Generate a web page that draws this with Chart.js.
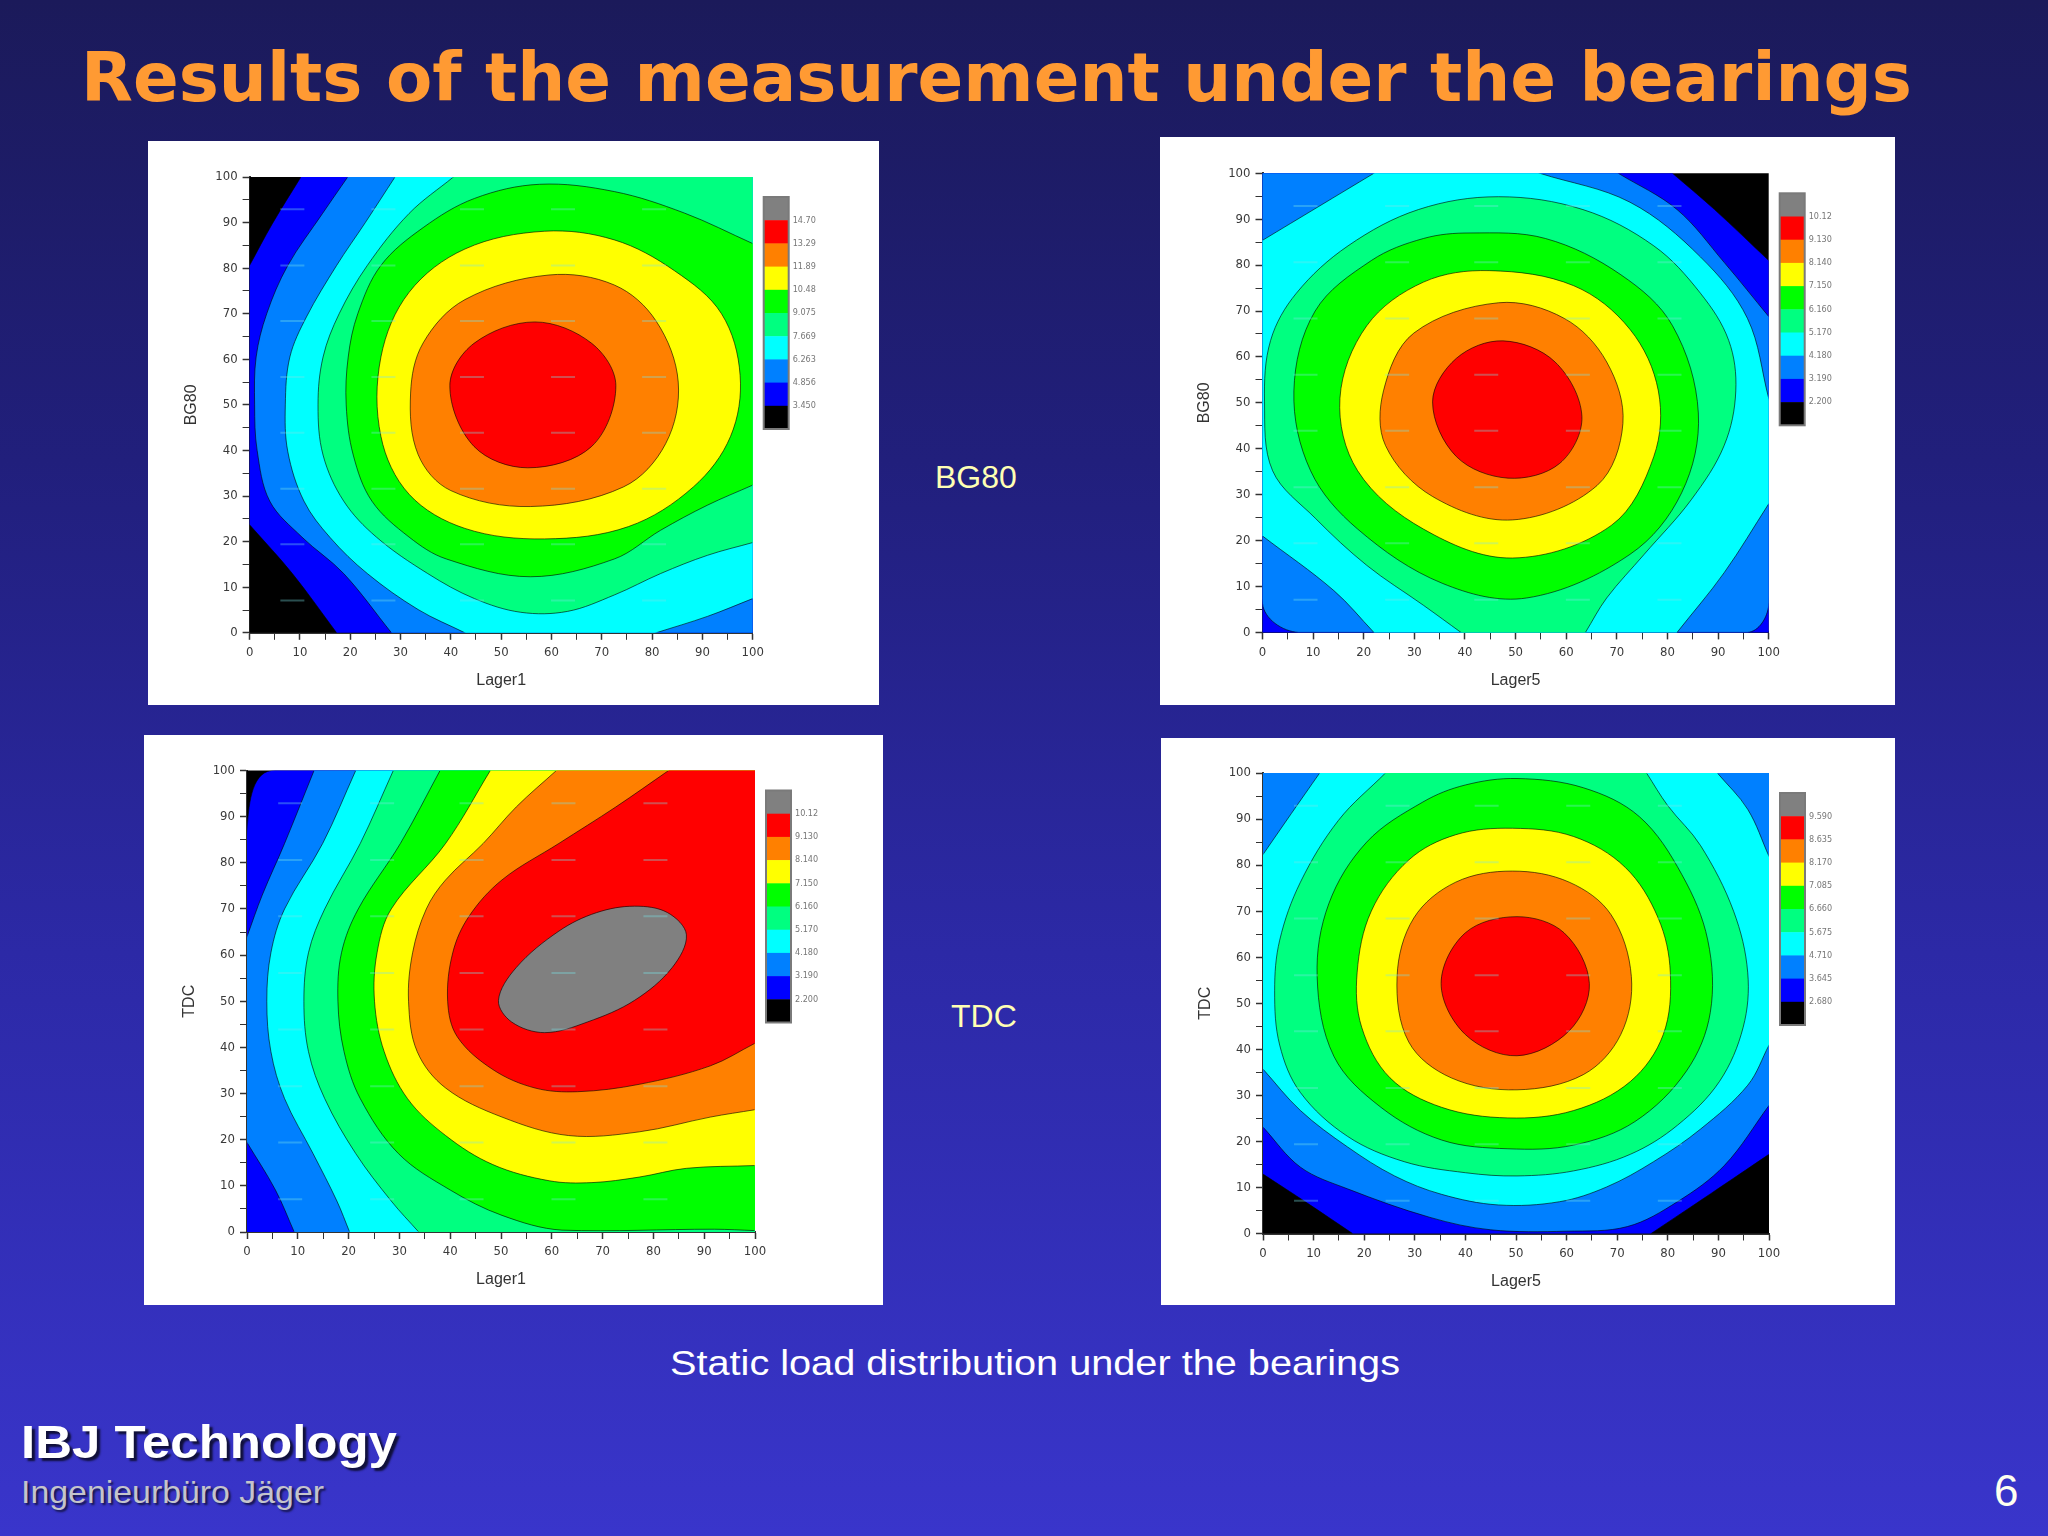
<!DOCTYPE html>
<html>
<head>
<meta charset="utf-8">
<script src="https://cdn.jsdelivr.net/npm/chart.js@4.4.0/dist/chart.umd.min.js"></script>
<style>
  body { margin:0; width:2048px; height:1536px; overflow:hidden; position:relative;
         background: linear-gradient(to bottom, #1b1a5a 0%, #211f7c 30%, #2c29a6 62%, #3935cb 100%);
         font-family: 'Liberation Sans', Arial, sans-serif; }
  .panel { position:absolute; background:#fff; }
  .txt { position:absolute; white-space:nowrap; transform-origin:left center; }
</style>
</head>
<body>

<div class="txt" id="title" style="left:81px;top:36px;font-family:'DejaVu Sans';font-weight:bold;font-size:67px;line-height:84px;color:#ff9a33">Results of the measurement under the bearings</div>

<div class="panel" style="left:148px;top:141px;width:731px;height:564px"><canvas id="chart1" width="731" height="564"></canvas></div>
<div class="panel" style="left:1160px;top:137px;width:735px;height:568px"><canvas id="chart2" width="735" height="568"></canvas></div>
<div class="panel" style="left:144px;top:735px;width:739px;height:570px"><canvas id="chart3" width="739" height="570"></canvas></div>
<div class="panel" style="left:1161px;top:738px;width:734px;height:567px"><canvas id="chart4" width="734" height="567"></canvas></div>

<div class="txt" id="bg80" style="left:935px;top:457px;font-size:32px;line-height:40px;color:#ffffb4">BG80</div>
<div class="txt" id="tdc" style="left:951px;top:996px;font-size:32px;line-height:40px;color:#ffffb4">TDC</div>
<div class="txt" id="caption" style="left:670px;top:1343px;font-size:35px;line-height:40px;color:#ffffff">Static load distribution under the bearings</div>
<div class="txt" id="ibj" style="left:21px;top:1414px;font-size:47px;line-height:56px;font-weight:bold;color:#ffffff;text-shadow:3px 3px 2px #10103a">IBJ Technology</div>
<div class="txt" id="ibj2" style="left:21px;top:1472px;font-size:32px;line-height:40px;color:#c4c4cc;text-shadow:2px 2px 2px #15154a">Ingenieurbüro Jäger</div>
<div class="txt" id="page" style="left:1994px;top:1466px;font-size:44px;line-height:50px;color:#fffff0">6</div>

<script>
// level colours from lowest (black) to highest (grey)
const levelColors = ['#000000','#0000ff','#0080ff','#00ffff','#00ff80','#00ff00','#ffff00','#ff8000','#ff0000','#808080'];

// colour scale labels (top to bottom)
const lager1Bg80Labels = ['14.70','13.29','11.89','10.48','9.075','7.669','6.263','4.856','3.450'];
const lager5Bg80Labels = ['10.12','9.130','8.140','7.150','6.160','5.170','4.180','3.190','2.200'];
const lager1TdcLabels = ['10.12','9.130','8.140','7.150','6.160','5.170','4.180','3.190','2.200'];
const lager5TdcLabels = ['9.590','8.635','8.170','7.085','6.660','5.675','4.710','3.645','2.680'];

// measurement points
const gridX = [8.5, 26.6, 44.2, 62.3, 80.4];
const gridY = [92.9, 80.6, 68.4, 56.1, 43.9, 31.6, 19.4, 7.1];

// contour regions, one outline per level (value >= level)
const lager1Bg80 = [
  [[-2,-2],[-2,102],[102,102],[102,-2]],
  [[10.2,100],[102,102],[102,-2],[17.3,0],[8.5,13],[0,23.7],[0,80.6],[4.5,89.7]],
  [[19.5,100],[102,102],[102,-2],[28.2,0],[18.7,13],[10.4,21],[4,28.9],[1.5,40],[1,50],[1.3,60.5],[3.4,70],[7.6,80.6],[14.5,92]],
  [[28.9,100],[102,102],[100,7.5],[91,3.6],[80.8,0],[42.8,0],[33.5,5.1],[23.4,13],[16,20.9],[10.8,28.9],[7.6,39.7],[7.1,50],[8,60.5],[11.3,69.3],[17.3,80.6],[23,90]],
  [[40.5,100],[102,102],[100,19.8],[91,17],[81.7,13],[72.5,8.3],[63.2,4.7],[53.9,4.5],[44.7,7.5],[35.4,13],[25.2,21],[18.7,28.9],[14.6,39],[13.6,50],[14.6,60.5],[17.8,70],[23.4,80.6],[31.7,92]],
  [[57.6,98.4],[72.5,96.8],[86.4,92.1],[100,85.4],[100,32.4],[91,28],[81.7,22.5],[72.5,16.2],[55.8,12.3],[39.1,16.2],[31.7,21],[24.3,28.9],[20.6,39],[19.2,50],[19.6,60.5],[21.5,70],[26.1,80.6],[34.5,88.9],[44.7,95.3]],
  [[58.6,88.1],[72.5,86.2],[84.5,79.4],[93.8,70],[97.5,56.5],[95.6,43.1],[88.2,32],[75.3,23.3],[58.6,20.6],[42.8,22.9],[31.7,30.4],[26.1,43.1],[26.1,60.5],[31.7,74.7],[42.8,84.2]],
  [[59.5,78.5],[72.5,76.3],[80.8,68.4],[85.2,55],[82.7,41.5],[74.3,32],[55.8,27.7],[40,31.2],[33.5,39.1],[32,52.6],[34.5,63.6],[42.8,73.1]],
  [[56.7,68.2],[68,63.5],[72.8,54.2],[68,40.9],[55.3,36.2],[44.6,40.9],[39.8,54.2],[44.6,63.5]]
];

const lager5Bg80 = [
  [[-2,-2],[-2,102],[102,102],[102,-2]],
  [[-2,-2],[-2,102],[81,100],[89.3,92.1],[100,81],[102,-2]],
  [[0,6.3],[-2,102],[70.3,100],[81.9,92.1],[91.2,80.6],[100,68.8],[100,5.9],[95.8,0],[7.1,0]],
  [[22,100],[54.8,100],[72.6,93.7],[86.5,81.8],[95.8,68.4],[100,51],[100,28],[91.2,13],[81.9,0],[22,0],[14.1,9.1],[0,21],[0,85.4],[11,92.7]],
  [[46.6,94.9],[63.3,92.1],[77.3,84.2],[86.5,73.9],[92.1,63.6],[93.5,52.6],[91.2,40.7],[84.7,28.9],[75.4,17],[68,7.5],[63.8,0],[39.2,0],[31.8,5.9],[20.6,14.6],[10.4,24.9],[2,35.2],[0.4,50.2],[1.6,63.6],[6.7,73.9],[16.9,84.2],[30.8,92.1]],
  [[41,87],[55.9,85.8],[70.8,77.9],[81,66.8],[86.1,47.8],[82.8,30.4],[72.6,17],[52.2,7.5],[35.5,10.7],[18.8,22.5],[9.5,35.2],[6.2,52.6],[10.4,70],[21.5,81],[31.8,85.8]],
  [[44.8,78.8],[61.5,75.5],[72.6,66],[78.2,52.6],[77.3,38.3],[68.9,23.3],[49.4,16.2],[31.8,22.5],[18.8,35.2],[15.3,51],[20.6,66.8],[31.8,76.3]],
  [[46.6,71.8],[59.6,68.4],[68,58.9],[71.2,45.5],[66.1,32],[49.4,24.5],[33.6,29.6],[24.3,40.7],[23.9,52.6],[29.9,65.2]],
  [[47.5,63.5],[57.8,58.9],[63.1,47],[58.7,36.8],[48.5,33.6],[38.3,38.3],[33.6,50.2],[38.3,59.7]]
];

const lager1Tdc = [
  [[-2,-2],[-2,102],[102,102],[102,-2]],
  [[4.8,100],[102,102],[102,-2],[-2,-2],[0,87]],
  [[13.2,100],[102,102],[102,-2],[9.3,0],[5.6,9.1],[0,19.4],[0,64],[3,73],[7.4,84.2]],
  [[21.4,100],[102,102],[102,-2],[20.2,0],[17.7,6.7],[13,17],[7.4,28.9],[4.7,39.1],[3.9,50],[4.7,60.5],[7.4,70],[14.9,84.2]],
  [[28.8,100],[102,102],[102,-2],[33.8,0],[28.4,6.7],[21.4,17],[15.3,28.9],[12.1,39.1],[11.2,50],[12.1,60.5],[15.3,70],[22.3,84.2]],
  [[38,100],[102,102],[100,0.3],[92,0.6],[62,0.4],[50.2,3.6],[40,9.1],[29.8,17],[22.3,28.9],[19.1,39.1],[17.9,50],[18.6,60.5],[21.9,70],[30.2,84.2]],
  [[47.9,100],[102,102],[100,14.4],[86.5,13.8],[77.2,11.9],[67.9,10.7],[59.5,11.1],[48.4,14.6],[39.1,20.9],[31.6,28.9],[27,39.1],[25.1,50],[25.6,60.5],[28.4,70],[39.1,84.2]],
  [[60.9,100],[102,102],[100,26.5],[91.2,24.9],[77.2,21.7],[63.3,20.9],[50.2,24.9],[39.1,31.2],[33.5,39.1],[31.8,50],[32.6,60.5],[35.3,70],[39.1,76.3],[46.5,84.2],[53,92.1]],
  [[83,100],[102,102],[100,40.9],[91.2,36],[77.2,32],[65.1,30.4],[56.7,31.2],[48.4,35.2],[41.4,42.3],[39.5,50],[40.5,60.5],[43.7,68.4],[50.2,76.3],[61.4,84.2],[72.6,92.1]],
  [[76.3,70.6],[82.8,69.2],[86.5,64.4],[83.7,57.3],[76.3,50.2],[67,45.5],[58.6,43.2],[52.1,45.5],[49.5,50.2],[53,57.3],[61.4,65.2],[68.8,69.2]]
];

const lager5Tdc = [
  [[-2,-2],[-2,102],[102,102],[102,-2]],
  [[0,12.9],[-2,102],[102,102],[100,17.2],[88.4,8.6],[76.7,0],[17.7,0],[8.9,6.5]],
  [[0,23.1],[-2,102],[102,102],[100,27.8],[91.2,14.8],[81.9,6.9],[72,1.5],[60,0.5],[45,0.8],[33,3.5],[16.7,9.7],[7.4,14.4]],
  [[11.2,100],[89.8,100],[95.8,92.1],[100,81.9],[100,40.9],[95.8,32.2],[86.5,22.7],[77.2,15.6],[67.9,10.1],[58.6,6.9],[46.5,6.2],[35.3,8.5],[26,12.5],[16.7,18.8],[7.4,26.7],[0,35.7],[0,82.3],[5.6,91.2]],
  [[24.2,100],[75.8,100],[80,92.9],[86.5,84.2],[93,70],[95.8,56.6],[94.9,44.8],[90.2,33],[81.9,23.5],[72.6,17.2],[61.4,13.6],[50.2,12.5],[40,13.2],[27.9,15.6],[16.7,21.1],[7.4,30.6],[3.3,40.9],[2.3,52.7],[3.3,63.7],[7.4,76.3],[14.9,89.7]],
  [[50.2,98.8],[63.3,96.8],[74.4,90.5],[82.8,77.9],[87.9,63.7],[88.4,48],[83.7,35.3],[73.5,24.3],[61.4,19.2],[48.4,18.4],[35.3,20.3],[23.3,27.4],[14,38.5],[10.7,55.8],[13,71.6],[20.5,85],[31.6,93.7],[40,97.4]],
  [[49.3,88],[61.4,86.2],[71.6,79.5],[78.1,68.5],[80.5,56.6],[79.1,43.2],[72.6,33],[61.4,26.7],[48.4,25.1],[35.3,27.4],[25.1,33.8],[19.5,44.8],[18.6,56.6],[21.4,70],[28.8,81.1],[38.1,86.6]],
  [[49.3,78.7],[60.5,76.3],[68.8,69.2],[72.8,55.8],[70.7,43.2],[63.3,34.5],[50.2,31.2],[37.2,33.8],[28.8,41.6],[26.5,55.8],[29.8,68.5],[38.1,76.3]],
  [[50.2,68.8],[59.5,65.3],[64.5,54.3],[60.5,44],[50.2,38.6],[40,43.2],[35.2,54.3],[40,65.3]]
];

const tickFont = "'Liberation Sans Narrow', 'DejaVu Sans Condensed', 'Liberation Sans', sans-serif";

// where an outline meets the frame, carry it a little past the frame
// so the spline crosses the edge at the angle it has inside the plot
function inside(p) { return p[0] > 0 && p[0] < 100 && p[1] > 0 && p[1] < 100; }
function onEdge(p) { return !inside(p) && p[0] >= 0 && p[0] <= 100 && p[1] >= 0 && p[1] <= 100; }
function pastEdge(c, from) {
  const dx = c[0] - from[0], dy = c[1] - from[1], d = Math.hypot(dx, dy) || 1;
  return [c[0] + dx / d * 3, c[1] + dy / d * 3];
}
function extendAtFrame(poly) {
  const n = poly.length, out = [];
  for (let i = 0; i < n; i++) {
    const c = poly[i], prev = poly[(i - 1 + n) % n], next = poly[(i + 1) % n];
    if (onEdge(c) && inside(next) && !inside(prev)) out.push(pastEdge(c, next));
    out.push(c);
    if (onEdge(c) && inside(prev) && !inside(next)) out.push(pastEdge(c, prev));
  }
  return out;
}

// close every outline into a loop so the spline runs round smoothly
const closeShapes = {
  id: 'closeShapes',
  afterDatasetsUpdate(chart) {
    chart.data.datasets.forEach((ds, i) => {
      if (!ds.showLine) return;
      const line = chart.getDatasetMeta(i).dataset;
      if (!line) return;
      line._loop = true;
      line._fullLoop = true;
      line._pointsUpdated = false;
      line._segments = undefined;
      line._path = undefined;
      line.updateControlPoints(chart.chartArea, 'x');
    });
  }
};

// colour scale at the right of the plot
const colorBar = {
  id: 'colorBar',
  afterDraw(chart, args, opts) {
    const ctx = chart.ctx, a = chart.chartArea;
    const x = a.right + 11, y = a.top + 20, w = 25, h = 232;
    const n = levelColors.length, seg = h / n;
    ctx.save();
    for (let i = 0; i < n; i++) {
      ctx.fillStyle = levelColors[n - 1 - i];
      ctx.fillRect(x, y + i * seg, w, seg + 0.5);
    }
    ctx.strokeStyle = '#7a7a7a';
    ctx.lineWidth = 2;
    ctx.strokeRect(x, y, w, h);
    ctx.fillStyle = '#777';
    ctx.font = "9px " + tickFont;
    ctx.textBaseline = 'middle';
    opts.labels.forEach((t, i) => ctx.fillText(t, x + w + 4, y + (i + 1) * seg));
    ctx.restore();
  }
};

function axis(pos, title, size) {
  return {
    type: 'linear', position: pos, min: 0, max: 100, z: 1,
    border: { color: '#333', width: 2 },
    grid: { drawOnChartArea: false, drawTicks: true, tickLength: 7, color: '#333',
            tickWidth: c => (c.tick && c.tick.value % 10 === 0 ? 1.5 : 1) },
    ticks: { stepSize: 5, autoSkip: false, maxRotation: 0, padding: 5, color: '#3a3a3a',
             font: { family: tickFont, size: 13 },
             callback: v => (v % 10 === 0 ? v : '') },
    title: { display: true, text: title, color: '#333', padding: 0,
             font: { family: "'Liberation Sans', Arial, sans-serif", size: 16 } },
    afterFit: s => { if (pos === 'left') s.width = size; else s.height = size; }
  };
}

function makePlot(id, levels, labels, xTitle, yTitle, plotLeft, plotTop, plotRight, plotBottom) {
  const cv = document.getElementById(id);
  const W = cv.width, H = cv.height;
  const markers = [];
  gridY.forEach(y => gridX.forEach(x => markers.push({ x: x, y: y })));
  const datasets = [{
    data: markers, showLine: false, pointStyle: 'line', pointRadius: 12,
    pointBorderWidth: 2, pointBorderColor: 'rgba(120,225,230,0.35)', clip: -0.5
  }];
  for (let k = levels.length - 1; k >= 0; k--) {
    datasets.push({
      data: extendAtFrame(levels[k]).map(p => ({ x: p[0], y: p[1] })),
      showLine: true, fill: 'shape', tension: 0.35,
      backgroundColor: levelColors[k],
      borderColor: 'rgba(0,0,0,0.6)', borderWidth: k === 0 ? 0 : 1,
      pointRadius: 0, clip: -0.5
    });
  }
  const yw = 67.2, xh = 57.6;
  return new Chart(cv, {
    type: 'line',
    data: { datasets: datasets },
    options: {
      responsive: false, animation: false, devicePixelRatio: 1,
      layout: { padding: { left: plotLeft - yw, top: plotTop, right: W - plotRight, bottom: H - plotBottom - xh } },
      plugins: { legend: { display: false }, tooltip: { enabled: false }, colorBar: { labels: labels } },
      scales: { x: axis('bottom', xTitle, xh), y: axis('left', yTitle, yw) }
    },
    plugins: [closeShapes, colorBar]
  });
}

makePlot('chart1', lager1Bg80, lager1Bg80Labels, 'Lager1', 'BG80', 101.6, 36, 604.7, 491.8);
makePlot('chart2', lager5Bg80, lager5Bg80Labels, 'Lager5', 'BG80', 102.5, 36.3, 608.7, 495.4);
makePlot('chart3', lager1Tdc, lager1TdcLabels, 'Lager1', 'TDC', 103, 35.5, 611, 497);
makePlot('chart4', lager5Tdc, lager5TdcLabels, 'Lager5', 'TDC', 102, 35, 608, 495.5);

// stretch texts to the widths they have on the slide
function fitWidth(id, w) {
  const el = document.getElementById(id);
  const r = el.getBoundingClientRect().width;
  el.style.transform = 'scaleX(' + (w / r) + ')';
}
fitWidth('title', 1831);
fitWidth('caption', 730);
fitWidth('ibj', 376);
fitWidth('ibj2', 303);
</script>
</body>
</html>
